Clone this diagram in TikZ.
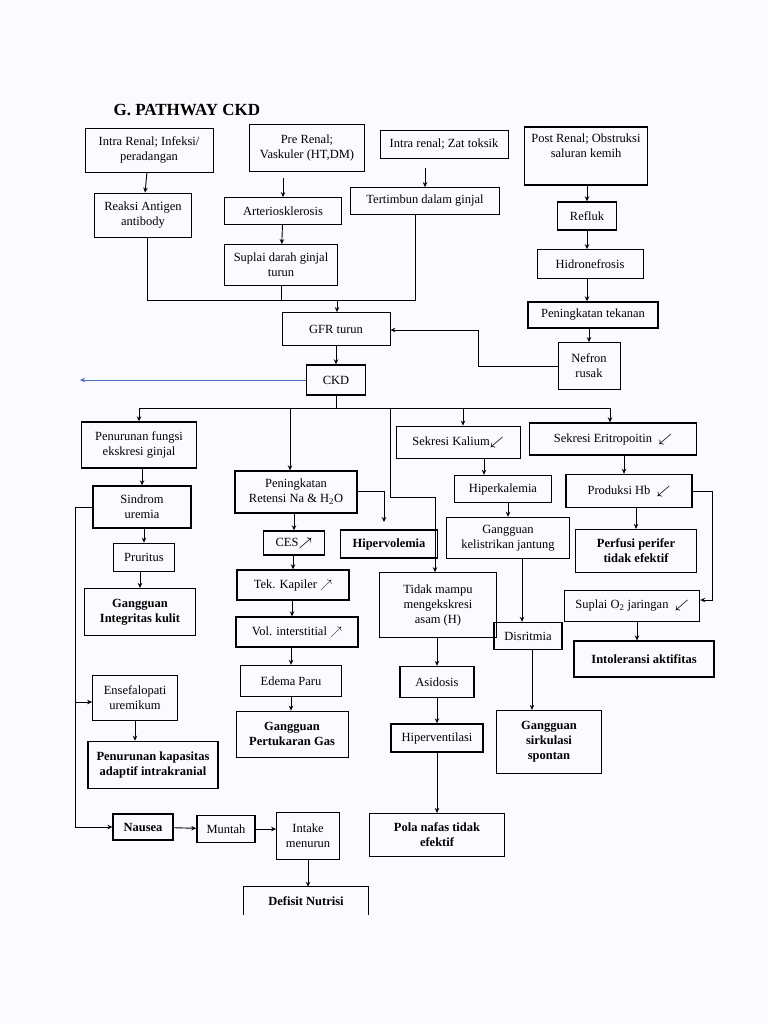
\documentclass[tikz,border=0pt]{standalone}
\usepackage{amsmath}
\usepackage{fontspec}
\setmainfont{Liberation Serif}
\usetikzlibrary{arrows.meta}
\definecolor{bg}{RGB}{251,250,254}
\definecolor{blu}{RGB}{70,110,190}
\begin{document}
\begin{tikzpicture}[x=1pt,y=-1pt,
  b/.style={draw,line width=0.8pt,align=center,inner sep=1pt,font=\fontsize{12.5}{15}\selectfont},
  bb/.style={b,line width=1.4pt},
  bf/.style={b,line width=1.2pt,font=\fontsize{12.5}{15}\selectfont\bfseries},
  a/.style={line width=0.9pt,-{Stealth[length=5pt,width=4.5pt]}},
  l/.style={line width=0.9pt}]
\fill[bg] (0,0) rectangle (768,1024);
\useasboundingbox (0,0) rectangle (768,1024);
\node[font=\fontsize{17}{19}\selectfont\bfseries,anchor=west] (title) at (110,110) {G.\ PATHWAY CKD};
% top
\node[b,minimum width=128,minimum height=44] (ir1) at (149,150) {Intra Renal; Infeksi/\\peradangan};
\node[bb,minimum width=115,minimum height=47] (pre) at (307,148) {Pre Renal;\\Vaskuler (HT,DM)};
\node[b,minimum width=128,minimum height=28] (zat) at (444,144) {Intra renal; Zat toksik};
\node[bb,minimum width=123,minimum height=58,text depth=20pt] (post) at (586,156) {Post Renal; Obstruksi\\saluran kemih};
\node[b,minimum width=97,minimum height=44] (reaksi) at (143,215) {Reaksi Antigen\\antibody};
\node[b,minimum width=117,minimum height=27] (arterio) at (283,211) {Arteriosklerosis};
\node[b,minimum width=149,minimum height=27] (tert) at (425,201) {Tertimbun dalam ginjal};
\node[b,minimum width=113,minimum height=41] (suplai) at (281,265) {Suplai darah ginjal\\turun};
\node[bb,minimum width=59,minimum height=28] (refluk) at (587,216) {Refluk};
\node[b,minimum width=106,minimum height=29] (hidro) at (590,264) {Hidronefrosis};
\node[bb,minimum width=130,minimum height=26] (tek) at (593,315) {Peningkatan tekanan};
\node[b,minimum width=108,minimum height=33] (gfr) at (336,329) {GFR turun};
\node[b,minimum width=62,minimum height=47] (nefron) at (589,366) {Nefron\\rusak};
\node[bb,minimum width=59,minimum height=30] (ckd) at (336,380) {CKD};
\coordinate (blueend) at (80,380);
\draw[a] (ir1) -- (reaksi);
\draw[a,shorten <=6pt] (pre.south -| arterio) -- (arterio);
\draw[a,shorten <=10pt] (zat.south -| tert) -- (tert);
\draw[a] (arterio) -- (suplai);
\draw[a] (post.south -| refluk) -- (refluk);
\draw[a] (refluk) -- (hidro.north -| refluk);
\draw[a] (hidro.south -| refluk) -- (tek.north -| refluk);
\draw[a] (tek.south -| nefron) -- (nefron);
\draw[l] (reaksi.south -| 147,0) |- (415,300) -- (tert.south -| 415,0);
\draw[l] (suplai.south) -- (281,300);
\draw[a] (337,300) -- (gfr.north -| 337,0);
\draw[a] (nefron.west) -| (478,330) -- (gfr.east |- 0,330);
\draw[a] (gfr) -- (ckd);
\draw[blu,line width=0.9pt,-{Stealth[length=5pt,width=4.5pt]}] (ckd.west) -- (blueend);
% row 2 nodes
\node[bb,minimum width=115,minimum height=46] (pen) at (139,445) {Penurunan fungsi\\ekskresi ginjal};
\node[bb,minimum width=98,minimum height=42] (sind) at (142,507) {Sindrom\\uremia};
\node[b,minimum width=61,minimum height=28] (prur) at (144,557) {Pruritus};
\node[bf,minimum width=111,minimum height=47] (gint) at (140,612) {Gangguan\\Integritas kulit};
\node[bb,minimum width=122,minimum height=42] (ret) at (296,492) {Peningkatan\\Retensi Na \& H\textsubscript{2}O};
\node[bb,minimum width=61,minimum height=24] (ces) at (294,543) {CES$\boldsymbol{\nearrow}$};
\node[bf,minimum width=97,minimum height=28] (hiperv) at (389,544) {Hipervolemia};
\node[bb,minimum width=112,minimum height=30] (kap) at (293,585) {Tek. Kapiler $\nearrow$};
\node[bb,minimum width=122,minimum height=30] (vol) at (297,632) {Vol. interstitial $\nearrow$};
\node[bb,minimum width=101,minimum height=31] (edema) at (291,681) {Edema Paru};
\node[b,minimum width=112,minimum height=46] (gpg) at (292,734) {\bfseries Gangguan\\\bfseries Pertukaran Gas};
\node[b,minimum width=124,minimum height=32] (kal) at (458,442) {Sekresi Kalium$\boldsymbol{\swarrow}$};
\node[bb,minimum width=167,minimum height=32] (eri) at (613,439) {Sekresi Eritropoitin \ $\boldsymbol{\swarrow}$};
\node[bb,minimum width=97,minimum height=27] (hk) at (503,489) {Hiperkalemia};
\node[bb,minimum width=123,minimum height=41] (kel) at (508,538) {Gangguan\\kelistrikan jantung};
\node[bb,minimum width=126,minimum height=33] (hb) at (629,491) {Produksi Hb \ $\boldsymbol{\swarrow}$};
\node[bf,minimum width=121,minimum height=43] (perf) at (636,551) {Perfusi perifer\\tidak efektif};
\node[b,minimum width=117,minimum height=65] (tidak) at (438,605) {Tidak mampu\\mengekskresi\\asam (H)};
\node[bb,minimum width=68,minimum height=27] (dis) at (528,636) {Disritmia};
\node[bb,minimum width=135,minimum height=31] (o2) at (632,606) {Suplai O\textsubscript{2} jaringan \ $\boldsymbol{\swarrow}$};
\node[bf,minimum width=140,minimum height=36] (intol) at (644,659) {Intoleransi aktifitas};
% lower
\node[b,minimum width=85,minimum height=45] (ens) at (135,698) {Ensefalopati\\uremikum};
\node[bf,minimum width=130,minimum height=47,line width=1.5pt] (kapas) at (153,765) {Penurunan kapasitas\\adaptif intrakranial};
\node[bb,minimum width=74,minimum height=31,text depth=-4pt] (asid) at (437,682) {Asidosis};
\node[bb,minimum width=92,minimum height=28] (hvent) at (437,738) {Hiperventilasi};
\node[bf,minimum width=135,minimum height=43] (pola) at (437,835) {Pola nafas tidak\\efektif};
\node[bf,minimum width=105,minimum height=63] (sirk) at (549,742) {Gangguan\\sirkulasi\\spontan};
\node[bf,minimum width=60,minimum height=26] (naus) at (143,827) {Nausea};
\node[bb,minimum width=58,minimum height=27] (munt) at (226,829) {Muntah};
\node[b,minimum width=63,minimum height=47] (intake) at (308,836) {Intake\\menurun};
\node[font=\fontsize{12.5}{15}\selectfont\bfseries,minimum width=124,minimum height=28] (def) at (306,901) {Defisit Nutrisi};
\draw[line width=1.2pt] (def.south west) |- (def.north east) -- (def.south east);
% bus
\draw[l] (ckd.south) -- (336,408);
\draw[l] (139,408) -- (610,408);
\draw[a] (139,408) -- (pen.north -| 139,0);
\draw[a] (290,408) -- (ret.north -| 290,0);
\draw[a] (463,408) -- (kal.north -| 463,0);
\draw[a] (610,408) -- (eri.north -| 610,0);
\draw[a] (390,408) |- (435,497) -- (tidak.north -| 435,0);
% col 1
\draw[a] (pen.south -| sind) -- (sind);
\draw[a] (sind.south -| prur) -- (prur);
\draw[a] (prur.south -| gint) -- (gint);
\draw[a] (sind.west) -| (75,827) -- (naus.west);
\draw[a] (75,702) -- (ens.west |- 0,702);
\draw[a] (ens) -- (kapas.north -| ens);
\draw[a] (naus) -- (munt);
\draw[a] (munt) -- (intake.west |- munt);
\draw[a] (intake) -- (def.north -| intake);
% col 2
\draw[a] (ret.south -| ces) -- (ces);
\draw[a] (ces.south -| kap) -- (kap);
\draw[a] (kap.south -| 292,0) -- (vol.north -| 292,0);
\draw[a] (vol.south -| edema) -- (edema);
\draw[a] (edema) -- (gpg.north -| edema);
\draw[a] (ret.east |- 0,491) -| (384,522);
% col 3
\draw[a] (tidak.south -| asid) -- (asid);
\draw[a] (asid) -- (hvent);
\draw[a] (hvent) -- (pola);
% col 4
\draw[a] (kal.south -| 484,0) -- (hk.north -| 484,0);
\draw[a] (hk.south -| kel) -- (kel);
\draw[a] (kel.south -| 522,0) -- (dis.north -| 522,0);
\draw[a] (dis.south -| 532,0) -- (sirk.north -| 532,0);
% col 5
\draw[a] (eri.south -| 624,0) -- (hb.north -| 624,0);
\draw[a] (hb.south -| perf) -- (perf);
\draw[a] (hb.east) -| (712,600) -- (o2.east |- 0,600);
\draw[a] (o2.south -| 637,0) -- (intol.north -| 637,0);
\end{tikzpicture}
\end{document}
